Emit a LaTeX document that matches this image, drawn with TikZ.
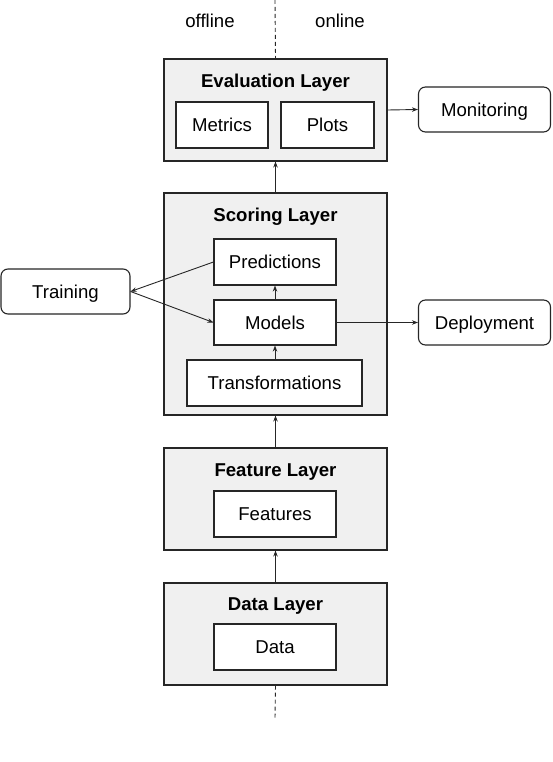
\documentclass[tikz,border=0pt]{standalone}
\usepackage{fontspec}
\setmainfont{Liberation Sans}
\usetikzlibrary{arrows.meta}
\begin{document}
\begin{tikzpicture}[x=1pt,y=-1pt,
  every node/.style={font=\fontsize{18.6}{22}\selectfont, text height=13.3pt, text depth=0pt},
  layer/.style={draw=black!85, line width=1.1pt, fill=black!6, inner sep=0pt},
  inbox/.style={draw=black!85, line width=1.1pt, fill=white, inner sep=0pt},
  sidebox/.style={draw=black!85, line width=1.1pt, fill=white, rounded corners=7pt, inner sep=0pt},
  title/.style={font=\fontsize{18.6}{22}\selectfont\bfseries, inner sep=0pt},
  lbl/.style={inner sep=0pt},
  conn/.style={draw=black!85, line width=0.9pt, -{Stealth[length=6pt,width=4.5pt]}},
  divider/.style={draw=black!85, line width=0.9pt, dash pattern=on 4pt off 3pt}
]
\useasboundingbox (0,0) rectangle (552,762);

% labels at top
\node[lbl] (offline) at (210,21) {offline};
\node[lbl] (online) at (340,21) {online};

% layers
\node[layer, minimum width=223pt, minimum height=102pt] (eval) at (275.5,110) {};
\node[layer, minimum width=223pt, minimum height=222pt] (scoring) at (275.5,304) {};
\node[layer, minimum width=223pt, minimum height=102pt] (feature) at (275.5,499) {};
\node[layer, minimum width=223pt, minimum height=102pt] (datalayer) at (275.5,634) {};

% titles
\node[title] (evalt) at (275.5,80.5) {Evaluation Layer};
\node[title] (scoringt) at (275.5,215) {Scoring Layer};
\node[title] (featuret) at (275.5,470) {Feature Layer};
\node[title] (datat) at (275.5,604) {Data Layer};

% inner boxes
\node[inbox, minimum width=92pt, minimum height=46pt] (metrics) at (222,125) {Metrics};
\node[inbox, minimum width=93pt, minimum height=46pt] (plots) at (327.5,125) {Plots};
\node[inbox, minimum width=122pt, minimum height=46pt] (predictions) at (275,262) {Predictions};
\node[inbox, minimum width=122pt, minimum height=45pt] (models) at (275,322.5) {Models};
\node[inbox, minimum width=175pt, minimum height=46pt] (transf) at (274.5,383) {Transformations};
\node[inbox, minimum width=122pt, minimum height=46pt] (features) at (275,514) {Features};
\node[inbox, minimum width=122pt, minimum height=46pt] (data) at (275,647) {Data};

% side boxes
\node[sidebox, minimum width=132pt, minimum height=45pt] (monitoring) at (484.5,109.5) {Monitoring};
\node[sidebox, minimum width=129pt, minimum height=45pt] (training) at (65.5,291.5) {Training};
\node[sidebox, minimum width=132pt, minimum height=45pt] (deployment) at (484.5,322.5) {Deployment};

% divider
\coordinate (dtop) at (275,0);
\coordinate (dbot) at (275,718);
\draw[divider] (dtop) -- (eval.north);
\draw[divider] (datalayer.south) -- (dbot);

% connectors
\draw[conn] (datalayer.north) -- (feature.south);
\draw[conn] (feature.north) -- (scoring.south);
\draw[conn] (scoring.north) -- (eval.south);
\draw[conn] (transf.north -| models.south) -- (models.south);
\draw[conn] (models.north) -- (predictions.south);
\draw[conn] (eval.east) -- (monitoring.west);
\draw[conn] (models.east) -- (deployment.west);
\draw[conn] (predictions.west) -- (training.east);
\draw[conn] (training.east) -- (models.west);
\end{tikzpicture}
\end{document}
